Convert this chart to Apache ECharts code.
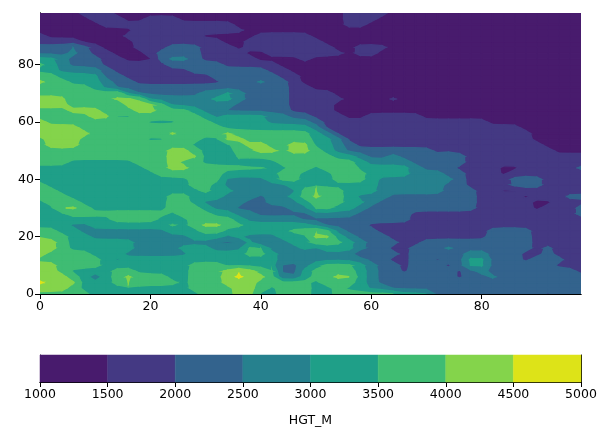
<!DOCTYPE html>
<html>
<head>
<meta charset="utf-8">
<script src="https://cdn.jsdelivr.net/npm/echarts@6/dist/echarts.min.js"></script>
<style>
  html, body { margin: 0; padding: 0; background: #fff; }
  #chart { width: 607px; height: 438px; }
</style>
</head>
<body>
<div id="chart"></div>
<script>
// HGT_M band index per node (0 = 1000-1500 ... 7 = 4500-5000).
// rows run from y=98 down to y=0, node spacing is 2 on both axes
const hgtWest = [
  '0000111000000000000000000','0000011100111000000000000','0000001111111111110000000',
  '0000000001111111111000000','1000000011111110000011111','1111000001111111100111111',
  '2223210001112221110111111','2223211000122221111001111','4432221100023321111100001',
  '5432221111112222211111000','4433332111111122222221100','5544442211111111222222110',
  '6554443221111111122232210','5555543222222222222222211','5555555632222223343222211',
  '6664655666333333443222211','6665554466653333332222211','5556665556655543322222211',
  '5555566445555554344443322','6555555555444555444443333','6666555555555555544444444',
  '6666655555556555565555555','5666555555445554466555555','5666555555555544445665566',
  '5555555555556654445566566','5555555555556664435555555','5554444445556554444334555',
  '4444444444556655555554455','4444444444455555544444554','4444444444444455533334554',
  '5444444444444455433333344','5544444444444445443333335','5554444444445544433323345',
  '4555444444445543333223334','4466544444445654332222233','4445555555554555443322222',
  '4444444555544455554333332','4443344444445456655444444','5544333333334445544444455',
  '5554433333333344434333444','7654444443333333222422344','6654444443333444333553234',
  '6555544433333344444554332','5555554344444444444444333','6655554444444455544444223',
  '6654444554444455567655224','6665424565554455567665224','7666444565555455566655555',
  '6665443444444455556654555','5555544444444445556644555'
];
const hgtEast = [
  '0001111000000000000000000','0001110000000000000000000','0001100000000000000000000',
  '0000000000000000000000000','0000000000000000000000000','1000000000000000000000000',
  '1100111000000000000000000','1110110000000000000000000','0000000000000000000000000',
  '0000000000000000000000000','0000000000000000000000000','0000000000000000000000000',
  '0000000000000000000000000','0000000000000000000000000','1100000000000000000000000',
  '1110000100000000000000000','1100000000000000000000000','1100000000000000000000000',
  '1110011111000000000000000','2111111111111111000000000','3111111111111111111000000',
  '4311111111111111111100000','4431111111111111111100000','4432111111111111111110000',
  '5432222222211111111111000','5544322322223211111111111','5555433332222211111110111',
  '4556444443222111100111112','4455544443332211101111111','4455543333333211112221111',
  '4444443333332211112221111','6554443333332221100111111','6554333222222221111011122',
  '5554432222222221111100111','5544322222222221111101112','3333222221111111111111112',
  '2222222221111111111111111','3222211111111111111111111','6532221111111111222211111',
  '6643222111111111222211111','5554322211222222222211111','3444322112223222222212111',
  '3333122212222233222112111','3333322112212244222122211','4555432212221244222222111',
  '5555432212222123222222221','5566432222222122322222222','4555432222222222222222222',
  '4454433222222222222222222','4455555544422222222221222'
];

const levels = [1000, 1500, 2000, 2500, 3000, 3500, 4000, 4500, 5000];
const bandColors = ['#481b6d', '#443983', '#33638d', '#26818e', '#1f9f88', '#3fbc73', '#84d44b', '#dde318'];
const axisTicks = [0, 20, 40, 60, 80];
const step = 2;
const textFont = 'DejaVu Sans';

const rows = hgtWest.map((r, i) => (r + hgtEast[i]).split('').map(Number));
const nRows = rows.length;
const nCols = rows[0].length;

// band index -> mid height of the band
function rawHgt(col, row) {
  const c = Math.max(0, Math.min(nCols - 1, col));
  const r = Math.max(0, Math.min(nRows - 1, row));
  const b = rows[nRows - 1 - r][c];
  return (levels[b] + levels[b + 1]) / 2;
}

// light kernel so the contour edges are not stair-stepped, single nodes still survive it
function hgtAt(col, row) {
  let sum = 8 * rawHgt(col, row);
  for (let dj = -1; dj <= 1; dj++) {
    for (let di = -1; di <= 1; di++) {
      if (di === 0 && dj === 0) continue;
      sum += (di === 0 || dj === 0 ? 1 : 0.5) * rawHgt(col + di, row + dj);
    }
  }
  return sum / 14;
}

const cells = [];
for (let j = 0; j < nRows - 1; j++) {
  for (let i = 0; i < nCols - 1; i++) {
    cells.push([i * step, j * step, i, j]);
  }
}

// clip one grid cell to the part at or above the level
function clipCell(i, j, level) {
  const corners = [[i, j], [i + 1, j], [i + 1, j + 1], [i, j + 1]];
  const vals = corners.map(c => hgtAt(c[0], c[1]));
  const pts = [];
  for (let k = 0; k < 4; k++) {
    const n = (k + 1) % 4;
    if (vals[k] >= level) pts.push(corners[k]);
    if ((vals[k] >= level) !== (vals[n] >= level)) {
      const t = (level - vals[k]) / (vals[n] - vals[k]);
      pts.push([
        corners[k][0] + t * (corners[n][0] - corners[k][0]),
        corners[k][1] + t * (corners[n][1] - corners[k][1])
      ]);
    }
  }
  return pts;
}

function bandSeries(b) {
  return {
    type: 'custom',
    name: levels[b] + '-' + levels[b + 1],
    coordinateSystem: 'cartesian2d',
    xAxisIndex: 0,
    yAxisIndex: 0,
    silent: true,
    animation: false,
    clip: true,
    z: 2 + b,
    data: cells,
    encode: { x: 0, y: 1 },
    renderItem: function (params, api) {
      const pts = clipCell(api.value(2), api.value(3), levels[b]);
      if (!pts.length) return null;
      return {
        type: 'polygon',
        shape: { points: pts.map(p => api.coord([p[0] * step, p[1] * step])) },
        style: { fill: bandColors[b], stroke: bandColors[b], lineWidth: 1.4 }
      };
    }
  };
}

const labelStyle = {
  color: '#000', fontFamily: textFont, fontSize: 12.5, margin: 6,
  showMaxLabel: false, formatter: v => String(v)
};
const barLabelStyle = Object.assign({}, labelStyle, { showMaxLabel: true });
const tickStyle = { length: 5, lineStyle: { color: '#000', width: 1 } };
const frameLine = { show: true, lineStyle: { color: '#000', width: 1 } };

const chart = echarts.init(document.getElementById('chart'), null, { renderer: 'canvas' });

chart.setOption({
  backgroundColor: '#fff',
  animation: false,
  grid: [
    { left: 40, top: 13, width: 541, height: 281 },
    { left: 40, top: 355, width: 541, height: 27 }
  ],
  xAxis: [
    { type: 'value', gridIndex: 0, min: 0, max: 98, interval: axisTicks[1] - axisTicks[0],
      axisLine: frameLine, axisTick: tickStyle, axisLabel: labelStyle, splitLine: { show: false } },
    { type: 'value', gridIndex: 0, position: 'top', min: 0, max: 98,
      axisLine: frameLine, axisTick: { show: false }, axisLabel: { show: false }, splitLine: { show: false } },
    { type: 'value', gridIndex: 1, min: levels[0], max: levels[levels.length - 1], interval: 500,
      name: 'HGT_M', nameLocation: 'middle', nameGap: 32,
      nameTextStyle: { color: '#000', fontFamily: textFont, fontSize: 12.5 },
      axisLine: frameLine, axisTick: tickStyle, axisLabel: barLabelStyle, splitLine: { show: false } },
    { type: 'value', gridIndex: 1, position: 'top', min: levels[0], max: levels[levels.length - 1],
      axisLine: frameLine, axisTick: { show: false }, axisLabel: { show: false }, splitLine: { show: false } }
  ],
  yAxis: [
    { type: 'value', gridIndex: 0, min: 0, max: 98, interval: axisTicks[1] - axisTicks[0],
      axisLine: frameLine, axisTick: tickStyle, axisLabel: labelStyle, splitLine: { show: false } },
    { type: 'value', gridIndex: 0, position: 'right', min: 0, max: 98,
      axisLine: frameLine, axisTick: { show: false }, axisLabel: { show: false }, splitLine: { show: false } },
    { type: 'value', gridIndex: 1, min: 0, max: 1,
      axisLine: frameLine, axisTick: { show: false }, axisLabel: { show: false }, splitLine: { show: false } },
    { type: 'value', gridIndex: 1, position: 'right', min: 0, max: 1,
      axisLine: frameLine, axisTick: { show: false }, axisLabel: { show: false }, splitLine: { show: false } }
  ],
  series: bandColors.map((c, b) => bandSeries(b)).concat([{
    type: 'custom',
    name: 'colorbar',
    coordinateSystem: 'cartesian2d',
    xAxisIndex: 2,
    yAxisIndex: 2,
    silent: true,
    animation: false,
    data: bandColors.map((c, b) => [levels[b], levels[b + 1], b]),
    encode: { x: [0, 1] },
    renderItem: function (params, api) {
      const p0 = api.coord([api.value(0), 0]);
      const p1 = api.coord([api.value(1), 1]);
      const fill = bandColors[api.value(2)];
      return {
        type: 'rect',
        shape: { x: p0[0], y: p1[1], width: p1[0] - p0[0], height: p0[1] - p1[1] },
        style: { fill: fill, stroke: fill, lineWidth: 0.5 }
      };
    }
  }])
});
</script>
</body>
</html>
